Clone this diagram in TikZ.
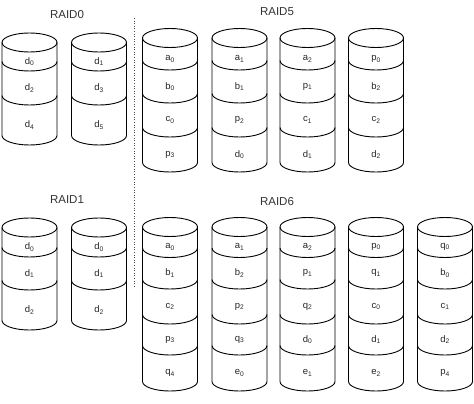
\documentclass[tikz,border=0pt]{standalone}
\usepackage{fontspec}
\setmainfont{Liberation Sans}
\usepackage{tikz}
\newcommand{\ix}[2]{#1\textsubscript{#2}}
% #1 centre x, #2 top ellipse y, #3 lowest y, #4 separators, #5 labels, #6 name
\newcommand{\drum}[6]{%
    \draw (#1,#2) ellipse [x radius=27.5pt, y radius=9.5pt];
    \draw (#1-27.5,#2) -- (#1-27.5,#3-9.5) arc [start angle=180, end angle=360, x radius=27.5pt, y radius=9.5pt] -- (#1+27.5,#2);
    \foreach \s in {#4}
        \draw (#1-27.5,\s-9.5) arc [start angle=180, end angle=360, x radius=27.5pt, y radius=9.5pt];
    \foreach \ly/\txt [count=\k] in {#5}
        \node[cell] (#6-\k) at (#1,\ly) {\txt};
}

\begin{document}
\begin{tikzpicture}[x=1pt, y=-1pt, line width=0.9pt,
    cell/.style={font=\fontsize{9.5}{10}\selectfont, text=black!85, inner sep=0pt},
    title/.style={font=\fontsize{11.5}{12}\selectfont, text=black!80}]
            \useasboundingbox (0,0) rectangle (474,404);

            \node[title] at (67, 15)   (raid0) {RAID0};
            \node[title] at (277, 12)  (raid5) {RAID5};
            \node[title] at (67, 200)  (raid1) {RAID1};
            \node[title] at (277, 202) (raid6) {RAID6};

            \draw[dotted, line width=0.6pt, black!70] (134,18) -- (134,288);

            % RAID0
            \drum{29.5}{42.5}{145}{71,105}{61.5/\ix d0, 88/\ix d2, 125/\ix d4}{z1}
            \drum{99}{42.5}{145}{71,105}{61.5/\ix d1, 88/\ix d3, 125/\ix d5}{z2}

            % RAID5
            \drum{170}{38}{172}{70,103,137}{59/\ix a0, 86.5/\ix b0, 120/\ix c0, 154.5/\ix p3}{f1}
            \drum{239.5}{38}{172}{70,103,137}{59/\ix a1, 86.5/\ix b1, 120/\ix p2, 154.5/\ix d0}{f2}
            \drum{307.5}{38}{172}{70,103,137}{59/\ix a2, 86.5/\ix p1, 120/\ix c1, 154.5/\ix d1}{f3}
            \drum{376}{38}{172}{70,103,137}{59/\ix p0, 86.5/\ix b2, 120/\ix c2, 154.5/\ix d2}{f4}

            % RAID1
            \drum{29.5}{227.5}{330}{257,290}{247/\ix d0, 273.5/\ix d1, 310/\ix d2}{o1}
            \drum{99}{227.5}{330}{257,290}{247/\ix d0, 273.5/\ix d1, 310/\ix d2}{o2}

            % RAID6
            \drum{170}{227}{391}{257.5,289,324,355}{246.75/\ix a0, 273.25/\ix b1, 306.5/\ix c2, 339.5/\ix p3, 373/\ix q4}{s1}
            \drum{239.5}{227}{391}{257.5,289,324,355}{246.75/\ix a1, 273.25/\ix b2, 306.5/\ix p2, 339.5/\ix q3, 373/\ix e0}{s2}
            \drum{307.5}{227}{391}{257.5,289,324,355}{246.75/\ix a2, 273.25/\ix p1, 306.5/\ix q2, 339.5/\ix d0, 373/\ix e1}{s3}
            \drum{376}{227}{391}{257.5,289,324,355}{246.75/\ix p0, 273.25/\ix q1, 306.5/\ix c0, 339.5/\ix d1, 373/\ix e2}{s4}
            \drum{445}{227}{391}{257.5,289,324,355}{246.75/\ix q0, 273.25/\ix b0, 306.5/\ix c1, 339.5/\ix d2, 373/\ix p4}{s5}
        \end{tikzpicture}
\end{document}
